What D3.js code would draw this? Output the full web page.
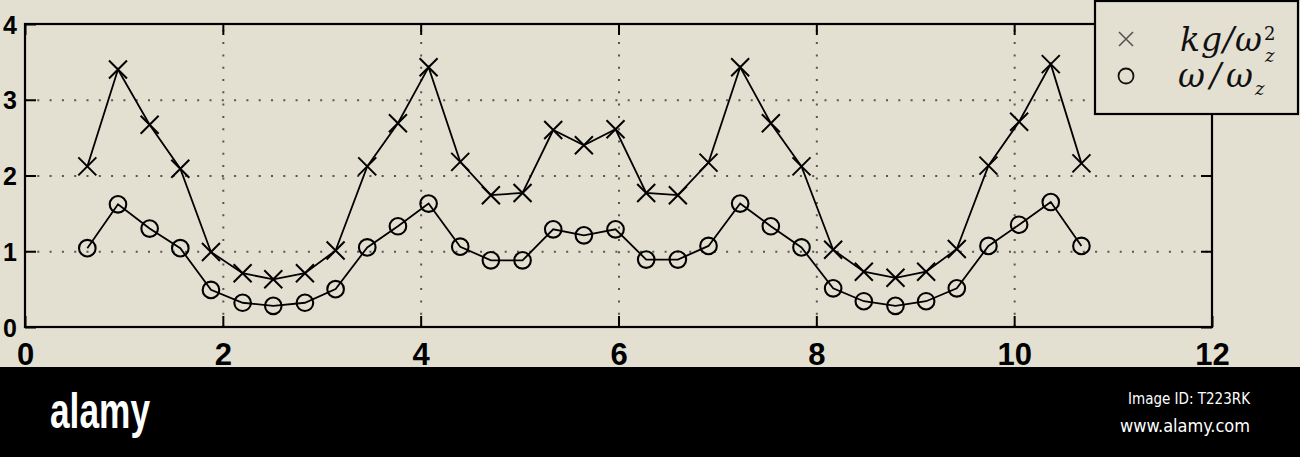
<!DOCTYPE html>
<html><head><meta charset="utf-8">
<script src="https://cdn.jsdelivr.net/npm/d3@7"></script>
<style>html,body{margin:0;padding:0;background:#e4e0d1;}svg{display:block;}</style>
</head><body>
<script>
const xValues = [0.63,0.94,1.26,1.57,1.88,2.20,2.51,2.83,3.14,3.46,3.77,4.08,4.40,4.71,5.03,5.34,5.65,5.97,6.28,6.60,6.91,7.23,7.54,7.85,8.17,8.48,8.80,9.11,9.42,9.74,10.05,10.37,10.68];
const kgValues = [2.12,3.40,2.67,2.09,0.99,0.71,0.63,0.71,1.01,2.12,2.69,3.43,2.18,1.74,1.77,2.60,2.40,2.61,1.77,1.74,2.17,3.43,2.69,2.12,1.02,0.73,0.65,0.73,1.03,2.13,2.71,3.47,2.16];
const omegaValues = [1.04,1.62,1.30,1.04,0.49,0.32,0.28,0.32,0.50,1.05,1.33,1.63,1.06,0.88,0.88,1.29,1.21,1.29,0.89,0.89,1.07,1.63,1.33,1.05,0.51,0.34,0.28,0.34,0.51,1.07,1.35,1.65,1.07];
const xTicks = [0,2,4,6,8,10,12];
const yTicks = [0,1,2,3,4];
const gridX = [2,4,6,8,10];
const gridY = [1,2,3];

const W = 1300, H = 457;
const bg = "#e4e0d1";
const L = 25, R = 1212, T = 24, B = 327;
const svg = d3.select("body").append("svg").attr("width", W).attr("height", H);
svg.append("rect").attr("width", W).attr("height", H).attr("fill", bg);

const x = d3.scaleLinear().domain([0, 12]).range([L, R]);
const y = d3.scaleLinear().domain([0, 4]).range([B, T]);

// grid
const grid = svg.append("g");
grid.append("g").attr("transform", `translate(0,${B})`)
  .call(d3.axisBottom(x).tickValues(gridX).tickSize(-(B - T)).tickFormat(""))
  .call(g => g.select(".domain").remove());
grid.append("g").attr("transform", `translate(${L},0)`)
  .call(d3.axisLeft(y).tickValues(gridY).tickSize(-(R - L)).tickFormat(""))
  .call(g => g.select(".domain").remove());
grid.selectAll(".tick line").attr("stroke", "#555").attr("stroke-width", 2)
  .attr("stroke-dasharray", "2,10.3");

// frame
svg.append("rect").attr("x", L).attr("y", T).attr("width", R - L).attr("height", B - T)
  .attr("fill", "none").attr("stroke", "#000").attr("stroke-width", 2.2);

// ticks (inward) and labels
const tickLen = 11;
const axB = svg.append("g").attr("transform", `translate(0,${B})`)
  .call(d3.axisBottom(x).tickValues(xTicks).tickSize(-tickLen).tickFormat(d3.format("d")));
const axT = svg.append("g").attr("transform", `translate(0,${T})`)
  .call(d3.axisTop(x).tickValues(xTicks).tickSize(-tickLen).tickFormat(""));
const axL = svg.append("g").attr("transform", `translate(${L},0)`)
  .call(d3.axisLeft(y).tickValues(yTicks).tickSize(-tickLen).tickFormat(d3.format("d")));
const axR = svg.append("g").attr("transform", `translate(${R},0)`)
  .call(d3.axisRight(y).tickValues(yTicks).tickSize(-tickLen).tickFormat(""));
[axB, axT, axL, axR].forEach(a => {
  a.select(".domain").remove();
  a.selectAll(".tick line").attr("stroke", "#000").attr("stroke-width", 2);
});
axB.selectAll("text").attr("font-family", "'Liberation Sans', Arial, sans-serif")
  .attr("font-weight", "bold").attr("font-size", 31).attr("fill", "#000")
  .attr("y", 38).attr("dy", null);
axL.selectAll("text").attr("font-family", "'Liberation Sans', Arial, sans-serif")
  .attr("font-weight", "bold").attr("font-size", 25).attr("fill", "#000")
  .attr("x", -8).attr("dy", "0.36em");

// lines
const line = d3.line().x((d, i) => x(xValues[i])).y(d => y(d));
svg.append("path").datum(kgValues).attr("d", line).attr("fill", "none")
  .attr("stroke", "#000").attr("stroke-width", 1.8);
svg.append("path").datum(omegaValues).attr("d", line).attr("fill", "none")
  .attr("stroke", "#000").attr("stroke-width", 1.8);

// markers
const cs = 9;
svg.append("g").selectAll("path").data(kgValues).join("path")
  .attr("transform", (d, i) => `translate(${x(xValues[i])},${y(d)})`)
  .attr("d", `M${-cs},${-cs}L${cs},${cs}M${cs},${-cs}L${-cs},${cs}`)
  .attr("stroke", "#000").attr("stroke-width", 2).attr("fill", "none");
svg.append("g").selectAll("circle").data(omegaValues).join("circle")
  .attr("cx", (d, i) => x(xValues[i])).attr("cy", d => y(d)).attr("r", 8.3)
  .attr("fill", "none").attr("stroke", "#000").attr("stroke-width", 2.1);

// legend
const lg = svg.append("g");
lg.append("rect").attr("x", 1095).attr("y", 1).attr("width", 203).attr("height", 113)
  .attr("fill", bg).attr("stroke", "#000").attr("stroke-width", 2.2);
lg.append("path").attr("transform", "translate(1126,39)")
  .attr("d", "M-7,-7L7,7M7,-7L-7,7").attr("stroke", "#555").attr("stroke-width", 1.6);
lg.append("circle").attr("cx", 1126).attr("cy", 76).attr("r", 7.5)
  .attr("fill", "none").attr("stroke", "#111").attr("stroke-width", 1.8);
const ff = "'DejaVu Serif', 'Liberation Serif', serif";
lg.append("text").attr("x", 1180).attr("y", 51).attr("font-family", ff).attr("font-style", "italic")
  .attr("font-size", 33).attr("fill", "#111")
  .attr("textLength", 82).attr("lengthAdjust", "spacing").text("kg/ω");
lg.append("text").attr("x", 1264).attr("y", 40).attr("font-family", ff)
  .attr("font-size", 18).attr("fill", "#111").text("2");
lg.append("text").attr("x", 1265).attr("y", 62).attr("font-family", ff).attr("font-style", "italic")
  .attr("font-size", 18).attr("fill", "#111").text("z");
lg.append("text").attr("x", 1178).attr("y", 87).attr("font-family", ff).attr("font-style", "italic")
  .attr("font-size", 33).attr("fill", "#111")
  .attr("textLength", 75).attr("lengthAdjust", "spacing").text("ω/ω");
lg.append("text").attr("x", 1255).attr("y", 95).attr("font-family", ff).attr("font-style", "italic")
  .attr("font-size", 18).attr("fill", "#111").text("z");

// bottom band
svg.append("rect").attr("x", 0).attr("y", 367).attr("width", W).attr("height", H - 367).attr("fill", "#000");
svg.append("text").attr("x", 50).attr("y", 428)
  .attr("font-family", "'Liberation Sans Narrow', 'Liberation Sans', Arial, sans-serif")
  .attr("font-weight", "bold").attr("font-size", 50).attr("fill", "#fff")
  .attr("textLength", 100).attr("lengthAdjust", "spacingAndGlyphs").text("alamy");
svg.append("text").attr("x", 1250).attr("y", 404).attr("text-anchor", "end")
  .attr("font-family", "'DejaVu Sans Condensed', 'DejaVu Sans', sans-serif").attr("font-size", 15).attr("fill", "#fff")
  .text("Image ID: T223RK");
svg.append("text").attr("x", 1250).attr("y", 432).attr("text-anchor", "end")
  .attr("font-family", "'DejaVu Sans Condensed', 'DejaVu Sans', sans-serif").attr("font-size", 18).attr("fill", "#fff")
  .text("www.alamy.com");
</script>
</body></html>
